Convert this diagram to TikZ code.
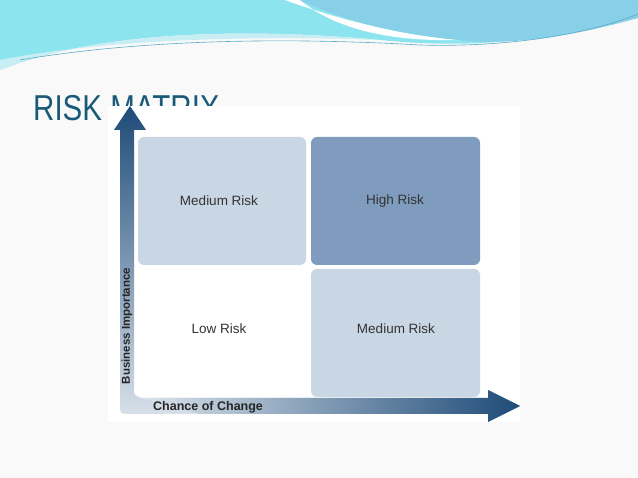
\documentclass[tikz,border=0pt]{standalone}
\usepackage{fontspec}
\setmainfont{Liberation Sans}
\usetikzlibrary{shadings}
\definecolor{wavea}{RGB}{140,228,238}
\definecolor{waveb}{RGB}{135,208,232}
\definecolor{wavec}{RGB}{200,238,244}
\definecolor{waveline}{RGB}{90,170,200}
\definecolor{titlec}{RGB}{25,90,120}
\definecolor{cellL}{RGB}{201,214,228}
\definecolor{cellD}{RGB}{127,156,191}
\definecolor{axdark}{RGB}{30,75,120}
\definecolor{axlight}{RGB}{220,228,236}
\begin{document}
\begin{tikzpicture}[x=1pt,y=-1pt,
  cell/.style={rounded corners=6pt,draw=none},
  lbl/.style={font=\fontsize{13.5}{15}\selectfont,text=black!80}]
\useasboundingbox (0,0) rectangle (638,478);
\fill[gray!5] (0,0) rectangle (638,478);
% banner
\fill[wavea] (0,0) -- (638,0) -- (638,10) .. controls (560,40) and (480,50) .. (380,40) .. controls (250,28) and (100,30) .. (0,70) -- cycle;
\fill[white] (285,0) .. controls (340,20) and (400,35) .. (460,40) .. controls (380,42) and (330,25) .. (300,0) -- cycle;
\fill[waveb] (300,0) -- (638,0) -- (638,18) .. controls (560,40) and (500,45) .. (460,40) .. controls (400,35) and (340,20) .. (300,0) -- cycle;
\fill[wavec] (0,70) .. controls (100,30) and (250,28) .. (380,40) .. controls (250,35) and (100,40) .. (0,60) -- cycle;
\draw[waveline,line width=0.6pt] (20,60) .. controls (150,38) and (300,38) .. (420,45) .. controls (520,48) and (600,30) .. (638,14);
% title
\node[anchor=base west,inner sep=0,text=titlec,font=\fontsize{36}{38}\selectfont\addfontfeatures{FakeStretch=0.82}] (title) at (33,121) {RISK MATRIX};
% panel
\fill[white] (108,106) rectangle (520,422);
% cells
\fill[cell,fill=cellL] (138,137) rectangle (306,265);
\fill[cell,fill=cellD] (311,137) rectangle (480,265);
\fill[cell,fill=cellL] (311,269) rectangle (480,397);
\node[lbl] (m1) at (219,201) {Medium Risk};
\node[lbl] (h) at (395,201) {High Risk};
\node[lbl] (l) at (219,329) {Low Risk};
\node[lbl] (m2) at (396,329) {Medium Risk};
% axes
\shade[top color=axdark,bottom color=axlight]
  (120,130) -- (114,130) -- (130,106) -- (146,130) -- (134,130) -- (134,388) .. controls (134,395) .. (141,398) -- (488,398) -- (488,390) -- (520,406) -- (488,422) -- (488,414) -- (130,414) .. controls (120,414) .. (120,404) -- cycle;
\shade[left color=axlight,right color=axdark]
  (141,398) -- (488,398) -- (488,390) -- (520,406) -- (488,422) -- (488,414) -- (200,414) -- cycle;
\node[rotate=90,font=\bfseries\fontsize{11.5}{12}\selectfont,text=black!85] (yl) at (127,326) {Business Importance};
\node[font=\bfseries\fontsize{12.5}{13}\selectfont,text=black!85,anchor=west,inner sep=0] (xl) at (153,407) {Chance of Change};
\end{tikzpicture}
\end{document}
